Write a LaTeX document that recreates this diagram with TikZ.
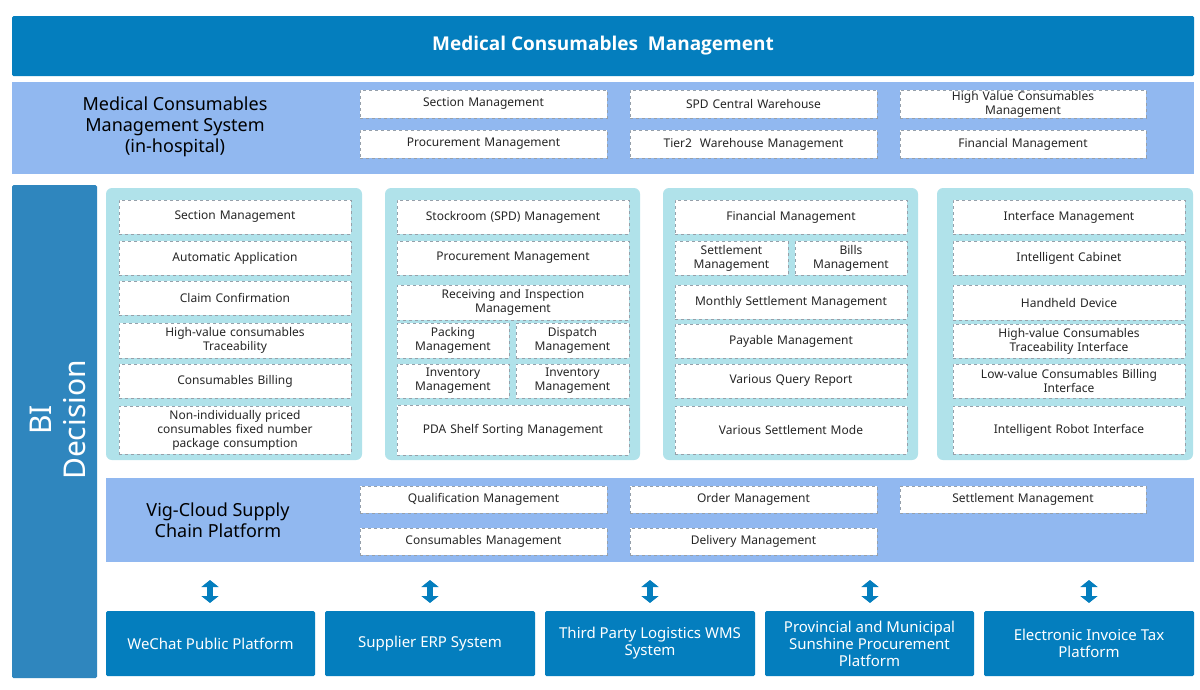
\documentclass[tikz,border=0pt]{standalone}
\usepackage{fontspec}
\usetikzlibrary{arrows.meta}
\setmainfont{Noto Sans}
\newfontfamily\bfam{Open Sans}[BoldFont={* Bold}]
\definecolor{dblue}{RGB}{4,126,190}
\definecolor{bib}{RGB}{47,134,190}
\definecolor{lblue}{RGB}{145,184,240}
\definecolor{cyanp}{RGB}{176,226,234}
\definecolor{dash}{RGB}{150,160,170}
\newcommand\bx[7][]{\node[inbox,#1,minimum width={#4-#2},minimum height={#5-#3},text width={#4-#2-6}] (#7) at ({(#2+#4)/2},{(#3+#5)/2}) {#6};}
\newcommand\rg[7][]{\node[#1,minimum width={#4-#2},minimum height={#5-#3}] (#7) at ({(#2+#4)/2},{(#3+#5)/2}) {#6};}
\begin{document}
\begin{tikzpicture}[x=1pt,y=-1pt,
 inbox/.style={draw=dash,dashed,fill=white,inner sep=0,align=center,font=\fontsize{12}{14}\selectfont,text=black!85},
 band/.style={fill=lblue,inner sep=0},
 panel/.style={fill=cyanp,rounded corners=6pt,inner sep=0},
 dark/.style={fill=dblue,inner sep=0,text=white,rounded corners=1.5pt,align=center,font=\fontsize{15}{17}\selectfont},
 dbl/.style={draw=dblue,line width=6pt,{Triangle[length=7pt,width=17pt]}-{Triangle[length=7pt,width=17pt]}}]
\useasboundingbox (0,0) rectangle (1200,689);
\fill[white] (0,0) rectangle (1200,689);
\rg[dark,font=\bfam\fontsize{19}{21}\selectfont\bfseries]{12}{16}{1194}{76}{Medical Consumables\ \ Management}{title}
\rg[band]{12}{82}{1194}{174}{}{sys}
\node[align=center,font=\fontsize{18}{21}\selectfont] (systxt) at (175,127) {Medical Consumables\\Management System\\(in-hospital)};
\bx{360}{90}{607}{118}{Section Management}{s1}
\bx{630}{90}{877}{118}{SPD Central Warehouse}{s2}
\bx{900}{90}{1146}{118}{High Value Consumables\\Management}{s3}
\bx{360}{130}{607}{158}{Procurement Management}{s4}
\bx{630}{130}{877}{158}{Tier2\ \ Warehouse Management}{s5}
\bx{900}{130}{1146}{158}{Financial Management}{s6}
\rg[dark,fill=bib]{12}{185}{97}{678}{}{bi}
\node[rotate=90,text=white,align=center,font=\fontsize{30}{34}\selectfont] (bitxt) at (58,420) {BI\\Decision};
\rg[panel]{106}{188}{362}{460}{}{p1}
\rg[panel]{385}{188}{640}{460}{}{p2}
\rg[panel]{663}{188}{918}{460}{}{p3}
\rg[panel]{937}{188}{1193}{460}{}{p4}
\bx{119}{200}{351}{234}{Section Management}{a1}
\bx{119}{241}{351}{275}{Automatic Application}{a2}
\bx{119}{281}{351}{315}{Claim Confirmation}{a3}
\bx{119}{323}{351}{358}{High-value consumables\\Traceability}{a4}
\bx{119}{364}{351}{398}{Consumables Billing}{a5}
\bx{119}{406}{351}{454}{Non-individually priced\\consumables fixed number\\package consumption}{a6}
\bx{397}{200}{629}{234}{Stockroom (SPD) Management}{b1}
\bx{397}{241}{629}{275}{Procurement Management}{b2}
\bx{397}{285}{629}{320}{Receiving and Inspection\\Management}{b3}
\bx{397}{323}{509}{358}{Packing\\Management}{b4}
\bx{516}{323}{629}{358}{Dispatch\\Management}{b5}
\bx{397}{364}{509}{398}{Inventory\\Management}{b6}
\bx{516}{364}{629}{398}{Inventory\\Management}{b7}
\bx{397}{405}{629}{455}{PDA Shelf Sorting Management}{b8}
\bx{675}{200}{907}{234}{Financial Management}{c1}
\bx{675}{241}{788}{275}{Settlement\\Management}{c2}
\bx{795}{241}{907}{275}{Bills\\Management}{c3}
\bx{675}{285}{907}{319}{Monthly Settlement Management}{c4}
\bx{675}{324}{907}{358}{Payable Management}{c5}
\bx{675}{364}{907}{398}{Various Query Report}{c6}
\bx{675}{406}{907}{454}{Various Settlement Mode}{c7}
\bx{953}{200}{1185}{234}{Interface Management}{d1}
\bx{953}{241}{1185}{275}{Intelligent Cabinet}{d2}
\bx{953}{285}{1185}{320}{Handheld Device}{d3}
\bx{953}{324}{1185}{358}{High-value Consumables\\Traceability Interface}{d4}
\bx{953}{364}{1185}{398}{Low-value Consumables Billing\\Interface}{d5}
\bx{953}{406}{1185}{454}{Intelligent Robot Interface}{d6}
\rg[band]{106}{478}{1194}{562}{}{vig}
\node[align=center,font=\fontsize{18}{21}\selectfont] (vigtxt) at (218,520) {Vig-Cloud Supply\\Chain Platform};
\bx{360}{486}{607}{513}{Qualification Management}{v1}
\bx{630}{486}{877}{513}{Order Management}{v2}
\bx{900}{486}{1146}{513}{Settlement Management}{v3}
\bx{360}{528}{607}{555}{Consumables Management}{v4}
\bx{630}{528}{877}{555}{Delivery Management}{v5}
\rg[dark]{106}{611}{315}{676}{WeChat Public Platform}{e1}
\rg[dark]{325}{611}{535}{676}{Supplier ERP System}{e2}
\rg[dark]{545}{611}{755}{676}{Third Party Logistics WMS\\System}{e3}
\rg[dark]{765}{611}{974}{676}{Provincial and Municipal\\Sunshine Procurement\\Platform}{e4}
\rg[dark]{984}{611}{1194}{676}{Electronic Invoice Tax\\Platform}{e5}
\foreach \i/\x in {1/210,2/430,3/650,4/870,5/1089}{
 \coordinate (t\i) at (\x,580); \coordinate (u\i) at (\x,603);
 \draw[dbl] (t\i) -- (u\i);}
\end{tikzpicture}
\end{document}
